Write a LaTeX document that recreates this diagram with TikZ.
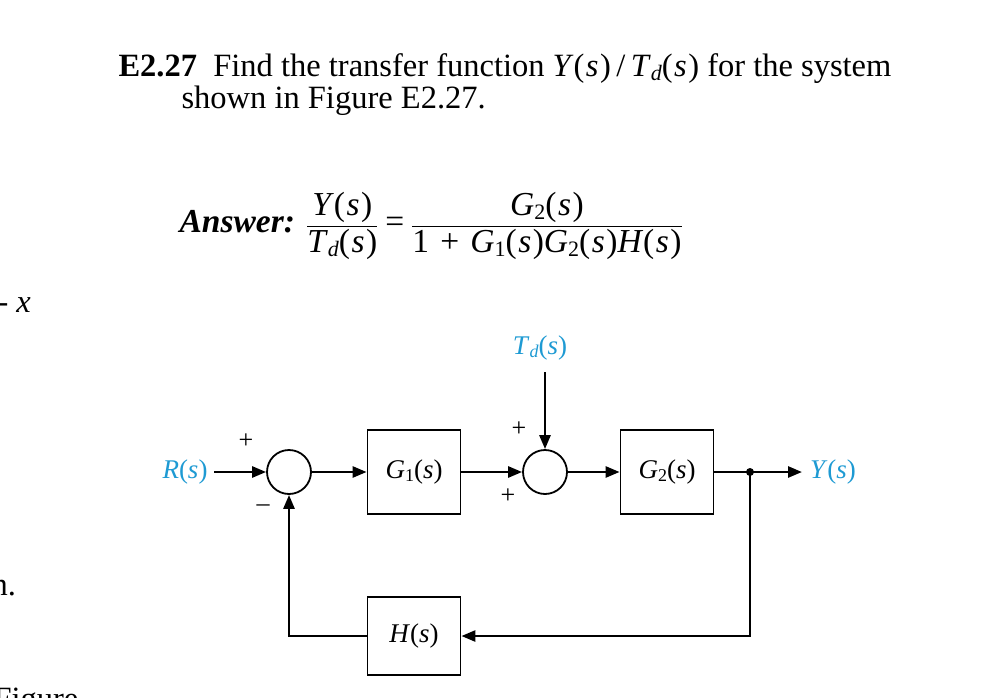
\documentclass[tikz,border=0pt]{standalone}
\usepackage{amsmath}
\usepackage{fontspec}
\setmainfont{Liberation Serif}
\usetikzlibrary{arrows.meta}
\definecolor{lab}{HTML}{1E9AD3}
\newcommand{\iv}[1]{\textit{#1}}
\newcommand{\fs}{\iv{s}}
\newcommand{\ps}{(\kern1.5pt\iv{s}\kern1.5pt)}
\newcommand{\sub}[1]{\raisebox{-4pt}{\fontsize{22}{22}\selectfont #1}}
\newcommand{\bsub}[1]{\raisebox{-3pt}{\fontsize{18}{18}\selectfont #1}}
\begin{document}
\begin{tikzpicture}[x=1pt,y=-1pt,
  blk/.style={draw,line width=1.8pt,minimum width=93pt,minimum height=84pt,font=\fontsize{27}{30}\selectfont},
  sumc/.style={draw,circle,line width=1.8pt,minimum size=44pt,inner sep=0pt},
  sig/.style={line width=2.6pt,-{Triangle[length=14pt,width=11pt]}},
  lbl/.style={text=lab,font=\fontsize{27}{30}\selectfont},
  pm/.style={font=\fontsize{26}{28}\selectfont}]
\useasboundingbox (0,0) rectangle (1006,698);
\node[anchor=west,font=\fontsize{32.5}{34}\selectfont] (t1) at (115,69) {\textbf{E2.27}\enspace Find the transfer function \iv{Y}\ps\,/\,\iv{T}\sub{\iv{d}}\ps{} for the system};
\node[anchor=west,font=\fontsize{32.5}{34}\selectfont] (t2) at (178,101) {shown in Figure E2.27.};
\node[anchor=west,font=\fontsize{33.5}{34}\selectfont] (ans) at (176,226) {\textbf{\textit{Answer:}} $\dfrac{\text{\iv{Y}\ps}}{\text{\iv{T}\sub{\iv{d}}\ps}} \mathrel{\text{=}} \dfrac{\text{\iv{G}\sub{2}\ps}}{\text{1\,\,+\,\,\iv{G}\sub{1}\ps\iv{G}\sub{2}\ps\iv{H}\ps}}$};
\node[anchor=west,font=\fontsize{32.5}{34}\selectfont] (lx) at (-6,305) {- \iv{x}};
\node[anchor=west,font=\fontsize{32.5}{34}\selectfont] (ln) at (-12,588) {n.};
\node[anchor=west,font=\fontsize{32.5}{34}\selectfont] (lf) at (-10,702) {Figure};

\node[sumc] (s1) at (289,472) {};
\node[sumc] (s2) at (545,472) {};
\node[blk] (g1) at (414,472) {\iv{G}\bsub{1}(\fs)};
\node[blk] (g2) at (667,472) {\iv{G}\bsub{2}(\fs)};
\node[blk,minimum height=78pt] (h) at (414,636) {\iv{H}(\fs)};
\node[lbl] (r) at (185,472) {\iv{R}(\fs)};
\node[lbl] (y) at (833,472) {\iv{Y}(\fs)};
\node[lbl] (td) at (540,348) {\iv{T}\bsub{\iv{d}}(\fs)};
\coordinate (rs) at (214,472);
\coordinate (tds) at (545,372);
\coordinate (br) at (750,472);
\coordinate (ye) at (802,472);
\coordinate (c1) at (750,636);
\coordinate (c2) at (289,636);
\fill (br) circle (4pt);
\draw[sig] (rs) -- (s1);
\draw[sig] (s1) -- (g1);
\draw[sig] (g1) -- (s2);
\draw[sig] (s2) -- (g2);
\draw[sig] (tds) -- (s2);
\draw[sig] (g2.east) -- (ye);
\draw[sig] (br) -- (c1) -- (h.east);
\draw[sig] (h.west) -- (c2) -- (s1);
\node[pm] (p1) at (246,441) {+};
\node[pm] (m1) at (263,508) {–};
\node[pm] (p2) at (519,429) {+};
\node[pm] (p3) at (508,496) {+};
\end{tikzpicture}
\end{document}
